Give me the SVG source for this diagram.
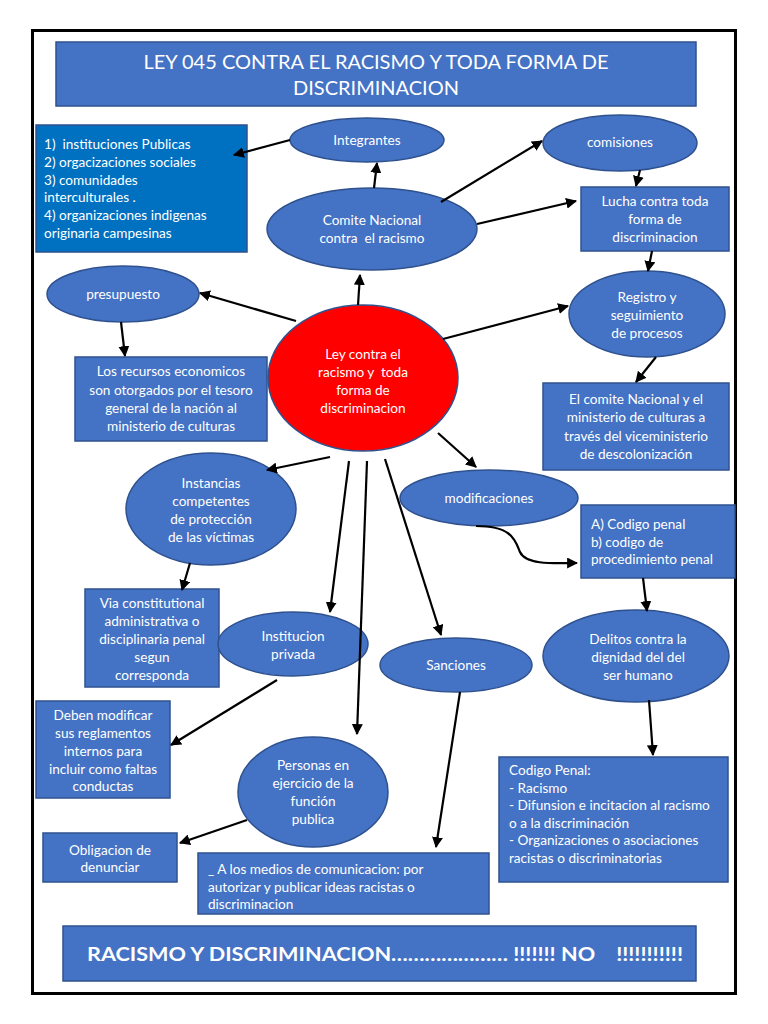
<svg xmlns="http://www.w3.org/2000/svg" width="768" height="1024" viewBox="0 0 768 1024">
<defs>
<marker id="ah" viewBox="0 0 10 10" refX="9" refY="5" markerWidth="5" markerHeight="5" orient="auto" markerUnits="strokeWidth">
<path d="M0,0 L10,5 L0,10 z" fill="#000"/>
</marker>
<style>
.n{fill:#4472C4;stroke:#2F528F;stroke-width:1.5}
.t{font-family:Lato,"Open Sans","Liberation Sans",sans-serif;font-size:13.6px;fill:#fff;text-anchor:middle;white-space:pre}
.l{text-anchor:start}
.c{fill:none;stroke:#000;stroke-width:2.2;marker-end:url(#ah)}
</style>
</defs>
<rect x="0" y="0" width="768" height="1024" fill="#fff"/>
<rect x="32.5" y="30.5" width="703" height="963" fill="#fff" stroke="#000" stroke-width="3"/>

<g id="title">
<rect class="n" x="56" y="42" width="640" height="64"/>
<text class="t" x="376" y="69" style="font-size:20px">LEY 045 CONTRA EL RACISMO Y TODA FORMA DE</text>
<text class="t" x="376" y="95" style="font-size:20px">DISCRIMINACION</text>
</g>

<g id="integrantes-list">
<rect x="36" y="125" width="211" height="127" fill="#0070C0" stroke="#2F528F" stroke-width="1.5"/>
<text class="t l" x="44" y="149" xml:space="preserve">1)  instituciones Publicas</text>
<text class="t l" x="44" y="167">2) orgacizaciones sociales</text>
<text class="t l" x="44" y="185">3) comunidades</text>
<text class="t l" x="44" y="202">interculturales .</text>
<text class="t l" x="44" y="220">4) organizaciones indigenas</text>
<text class="t l" x="44" y="238">originaria campesinas</text>
</g>

<g id="integrantes">
<ellipse class="n" cx="367" cy="140" rx="77" ry="22"/>
<text class="t" x="367" y="145">Integrantes</text>
</g>

<g id="comite">
<ellipse class="n" cx="372" cy="229" rx="105" ry="41"/>
<text class="t" x="372" y="225">Comite Nacional</text>
<text class="t" x="372" y="243" xml:space="preserve">contra  el racismo</text>
</g>

<g id="comisiones">
<ellipse class="n" cx="620" cy="143" rx="77" ry="28"/>
<text class="t" x="620" y="147">comisiones</text>
</g>

<g id="lucha">
<rect class="n" x="581" y="187" width="148" height="64"/>
<text class="t" x="655" y="206">Lucha contra toda</text>
<text class="t" x="655" y="224">forma de</text>
<text class="t" x="655" y="242">discriminacion</text>
</g>

<g id="registro">
<ellipse class="n" cx="647" cy="314" rx="78" ry="43"/>
<text class="t" x="647" y="302">Registro y</text>
<text class="t" x="647" y="320">seguimiento</text>
<text class="t" x="647" y="338">de procesos</text>
</g>

<g id="elcomite">
<rect class="n" x="543" y="383" width="186" height="87"/>
<text class="t" x="636" y="404">El comite Nacional y el</text>
<text class="t" x="636" y="422">ministerio de culturas a</text>
<text class="t" x="636" y="441">través del viceministerio</text>
<text class="t" x="636" y="459">de descolonización</text>
</g>

<g id="presupuesto">
<ellipse class="n" cx="123" cy="294" rx="76" ry="28"/>
<text class="t" x="123" y="299">presupuesto</text>
</g>

<g id="recursos">
<rect class="n" x="75" y="357" width="192" height="84"/>
<text class="t" x="171" y="376">Los recursos economicos</text>
<text class="t" x="171" y="395">son otorgados por el tesoro</text>
<text class="t" x="171" y="413">general de la nación al</text>
<text class="t" x="171" y="431">ministerio de culturas</text>
</g>

<g id="ley">
<ellipse cx="363" cy="378" rx="95" ry="73" fill="#FF0000" stroke="#2F528F" stroke-width="1.5"/>
<text class="t" x="363" y="359">Ley contra el</text>
<text class="t" x="363" y="377" xml:space="preserve">racismo y  toda</text>
<text class="t" x="363" y="395">forma de</text>
<text class="t" x="363" y="413">discriminacion</text>
</g>

<g id="instancias">
<ellipse class="n" cx="211" cy="509" rx="85" ry="56"/>
<text class="t" x="211" y="488">Instancias</text>
<text class="t" x="211" y="506">competentes</text>
<text class="t" x="211" y="524">de protección</text>
<text class="t" x="211" y="542">de las víctimas</text>
</g>

<g id="modificaciones">
<ellipse class="n" cx="489" cy="498" rx="89" ry="28"/>
<text class="t" x="489" y="503">modificaciones</text>
</g>

<g id="codigos">
<rect class="n" x="581" y="505" width="154" height="73"/>
<text class="t l" x="591" y="529">A) Codigo penal</text>
<text class="t l" x="591" y="547">b) codigo de</text>
<text class="t l" x="591" y="564">procedimiento penal</text>
</g>

<g id="via">
<rect class="n" x="85" y="589" width="134" height="98"/>
<text class="t" x="152" y="608">Via constitutional</text>
<text class="t" x="152" y="626">administrativa o</text>
<text class="t" x="152" y="644">disciplinaria penal</text>
<text class="t" x="152" y="662">segun</text>
<text class="t" x="152" y="680">corresponda</text>
</g>

<g id="institucion">
<ellipse class="n" cx="293" cy="644" rx="75" ry="32"/>
<text class="t" x="293" y="641">Institucion</text>
<text class="t" x="293" y="659">privada</text>
</g>

<g id="sanciones">
<ellipse class="n" cx="456" cy="665" rx="76" ry="27"/>
<text class="t" x="456" y="670">Sanciones</text>
</g>

<g id="delitos">
<ellipse class="n" cx="636" cy="656" rx="93" ry="46"/>
<text class="t" x="638" y="644">Delitos contra la</text>
<text class="t" x="638" y="662">dignidad del del</text>
<text class="t" x="638" y="680">ser humano</text>
</g>

<g id="codigopenal">
<rect class="n" x="499" y="757" width="229" height="125"/>
<text class="t l" x="509" y="775">Codigo Penal:</text>
<text class="t l" x="509" y="793">- Racismo</text>
<text class="t l" x="509" y="810">- Difunsion e incitacion al racismo</text>
<text class="t l" x="509" y="828">o a la discriminación</text>
<text class="t l" x="509" y="845">- Organizaciones o asociaciones</text>
<text class="t l" x="509" y="863">racistas o discriminatorias</text>
</g>

<g id="deben">
<rect class="n" x="36" y="701" width="134" height="97"/>
<text class="t" x="103" y="720">Deben modificar</text>
<text class="t" x="103" y="738">sus reglamentos</text>
<text class="t" x="103" y="756">internos para</text>
<text class="t" x="103" y="774">incluir como faltas</text>
<text class="t" x="103" y="791">conductas</text>
</g>

<g id="personas">
<ellipse class="n" cx="313" cy="792" rx="75" ry="55"/>
<text class="t" x="313" y="770">Personas en</text>
<text class="t" x="313" y="788">ejercicio de la</text>
<text class="t" x="313" y="806">función</text>
<text class="t" x="313" y="824">publica</text>
</g>

<g id="obligacion">
<rect class="n" x="43" y="833" width="134" height="49"/>
<text class="t" x="110" y="855">Obligacion de</text>
<text class="t" x="110" y="872">denunciar</text>
</g>

<g id="medios">
<rect class="n" x="198" y="853" width="291" height="61"/>
<text class="t l" x="208" y="874">_ A los medios de comunicacion: por</text>
<text class="t l" x="208" y="892">autorizar y publicar ideas racistas o</text>
<text class="t l" x="208" y="909">discriminacion</text>
</g>

<g id="footer">
<rect class="n" x="63" y="926" width="633" height="55"/>
<text class="t l" x="87" y="961" style="font-size:18px;font-weight:bold" xml:space="preserve" textLength="596" lengthAdjust="spacingAndGlyphs">RACISMO Y DISCRIMINACION………………… !!!!!!! NO    !!!!!!!!!!!</text>
</g>

<g id="connectors">
<path class="c" d="M290,140 L234,155"/>
<path class="c" d="M374,188 L377,163"/>
<path class="c" d="M441,202 L542,141"/>
<path class="c" d="M477,224 L576,201"/>
<path class="c" d="M640,170 L636,186"/>
<path class="c" d="M652,251 L648,271"/>
<path class="c" d="M443,339 L568,306"/>
<path class="c" d="M656,357 L636,382"/>
<path class="c" d="M358,305 L360,275"/>
<path class="c" d="M296,321 L200,293"/>
<path class="c" d="M121,322 L125,356"/>
<path class="c" d="M330,457 L267,470"/>
<path class="c" d="M438,433 L476,467"/>
<path class="c" d="M476,526 C512,526 515,540 520,552 C526,566 560,563 577,563"/>
<path class="c" d="M190,563 L182,590"/>
<path class="c" d="M349,461 L330,612"/>
<path class="c" d="M367,461 L357,734"/>
<path class="c" d="M385,459 L441,635"/>
<path class="c" d="M643,578 L647,611"/>
<path class="c" d="M649,700 L653,755"/>
<path class="c" d="M277,680 L171,745"/>
<path class="c" d="M247,820 L180,843"/>
<path class="c" d="M460,692 L436,847"/>
</g>
</svg>
